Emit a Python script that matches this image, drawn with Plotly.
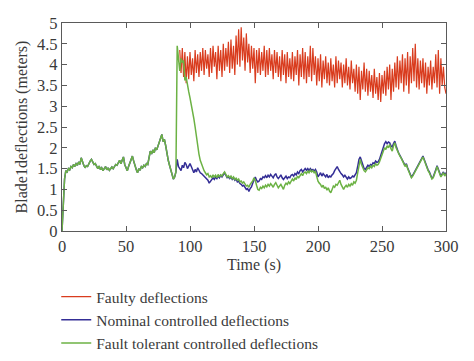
import plotly.graph_objects as go

# Fault tolerant controlled deflections (green), t = 0..300 s, 1 s step
green = [
    0.00, 0.85, 1.25, 1.45, 1.42, 1.50, 1.47, 1.55, 1.52, 1.60,
    1.55, 1.62, 1.58, 1.66, 1.60, 1.76, 1.65, 1.58, 1.52, 1.57,
    1.55, 1.63, 1.68, 1.72, 1.66, 1.60, 1.62, 1.55, 1.50, 1.56,
    1.48, 1.52, 1.45, 1.50, 1.55, 1.47, 1.52, 1.46, 1.50, 1.54,
    1.50, 1.56, 1.60, 1.58, 1.65, 1.70, 1.62, 1.72, 1.78, 1.60,
    1.52, 1.45, 1.55, 1.62, 1.72, 1.80, 1.68, 1.55, 1.48, 1.40,
    1.50, 1.46, 1.55, 1.52, 1.58, 1.55, 1.62, 1.60, 1.78, 1.92,
    1.85, 1.95, 1.88, 2.00, 1.95, 2.05, 2.12, 2.22, 2.32, 2.15,
    2.20, 2.05, 1.85, 1.70, 1.58, 1.45, 1.32, 1.25, 1.30, 1.42,
    4.45, 4.10, 3.85, 4.15, 4.05, 4.10, 3.62, 3.70, 3.48, 3.35,
    3.20, 3.05, 2.88, 2.70, 2.50, 2.25, 2.05, 1.85, 1.70, 1.60,
    1.52, 1.45, 1.40, 1.35, 1.38, 1.30, 1.33, 1.28, 1.35, 1.30,
    1.34, 1.28, 1.36, 1.30, 1.35, 1.32, 1.38, 1.42, 1.36, 1.30,
    1.33, 1.28, 1.32, 1.26, 1.30, 1.24, 1.27, 1.22, 1.25, 1.18,
    1.20, 1.15, 1.18, 1.12, 1.08, 1.10, 1.05, 1.12, 1.15, 1.20,
    1.28, 1.22, 1.10, 1.00, 0.98, 1.05, 1.02, 1.08, 1.04, 1.10,
    1.06, 1.12, 1.08, 1.14, 1.10, 1.05, 1.12, 1.16, 1.10, 1.04,
    1.08, 1.12, 1.06, 1.00, 1.10, 1.15, 1.12, 1.18, 1.14, 1.20,
    1.25, 1.20, 1.28, 1.24, 1.32, 1.28, 1.35, 1.38, 1.33, 1.40,
    1.42, 1.38, 1.44, 1.40, 1.46, 1.42, 1.45, 1.40, 1.43, 1.30,
    1.20, 1.15, 1.12, 1.05, 1.10, 1.02, 1.06, 0.98, 1.04, 0.96,
    0.92, 1.00, 1.08, 1.05, 1.12, 1.10, 1.18, 1.22, 1.12, 1.04,
    1.00, 1.06, 1.10, 1.05, 1.12, 1.08, 1.14, 1.10, 1.18, 1.15,
    1.22, 1.40, 1.62, 1.72, 1.60, 1.50, 1.45, 1.42, 1.48, 1.52,
    1.50, 1.56, 1.52, 1.58, 1.55, 1.62, 1.58, 1.60, 1.66, 1.75,
    1.85, 1.95, 2.00, 1.96, 2.05, 2.00, 2.08, 1.98, 1.92, 2.05,
    2.12, 2.00, 1.92, 1.85, 1.80, 1.75, 1.70, 1.62, 1.55, 1.60,
    1.50, 1.42, 1.35, 1.28, 1.32, 1.38, 1.42, 1.50, 1.55, 1.60,
    1.65, 1.72, 1.78, 1.70, 1.60, 1.52, 1.45, 1.40, 1.32, 1.25,
    1.28, 1.35, 1.45, 1.55, 1.48, 1.38, 1.30, 1.35, 1.40, 1.32,
    1.38,
]
t_green = list(range(0, 301))

# Nominal controlled deflections (blue) after the fault, t = 90..300 s
blue_after = [
    1.72, 1.55, 1.50, 1.45, 1.58, 1.52, 1.65, 1.60, 1.50, 1.55,
    1.62, 1.55, 1.45, 1.40, 1.48, 1.42, 1.52, 1.45, 1.40, 1.38,
    1.35, 1.32, 1.30, 1.26, 1.22, 1.15, 1.20, 1.25, 1.28, 1.24,
    1.30, 1.26, 1.32, 1.28, 1.34, 1.30, 1.35, 1.40, 1.34, 1.28,
    1.30, 1.26, 1.30, 1.24, 1.28, 1.22, 1.25, 1.18, 1.20, 1.14,
    1.12, 1.08, 1.10, 1.05, 1.00, 1.02, 0.95, 1.02, 1.06, 1.15,
    1.25, 1.30, 1.22, 1.18, 1.20, 1.26, 1.24, 1.30, 1.28, 1.33,
    1.28, 1.34, 1.30, 1.36, 1.32, 1.28, 1.34, 1.38, 1.30, 1.26,
    1.30, 1.35, 1.28, 1.24, 1.28, 1.32, 1.26, 1.30, 1.28, 1.34,
    1.36, 1.32, 1.38, 1.35, 1.42, 1.38, 1.45, 1.48, 1.42, 1.46,
    1.50, 1.46, 1.50, 1.45, 1.50, 1.46, 1.48, 1.44, 1.48, 1.42,
    1.30, 1.35, 1.40, 1.32, 1.38, 1.34, 1.30, 1.36, 1.28, 1.32,
    1.30, 1.35, 1.38, 1.45, 1.52, 1.55, 1.48, 1.42, 1.38, 1.35,
    1.30, 1.34, 1.28, 1.25, 1.30, 1.26, 1.28, 1.32, 1.30, 1.35,
    1.40, 1.55, 1.72, 1.78, 1.68, 1.55, 1.50, 1.48, 1.54, 1.58,
    1.55, 1.60, 1.58, 1.64, 1.62, 1.68, 1.65, 1.66, 1.72, 1.82,
    1.95, 2.05, 2.10, 2.15, 2.10, 2.14, 2.12, 2.05, 2.02, 2.10,
    2.16, 2.05, 1.95, 1.87, 1.82, 1.77, 1.72, 1.64, 1.57, 1.62,
    1.52, 1.44, 1.37, 1.30, 1.34, 1.40, 1.44, 1.52, 1.57, 1.62,
    1.67, 1.74, 1.80, 1.72, 1.62, 1.54, 1.47, 1.42, 1.34, 1.27,
    1.30, 1.37, 1.47, 1.57, 1.50, 1.40, 1.32, 1.37, 1.42, 1.35,
    1.40,
]
# before the fault the nominal response coincides with the green one
blue = green[:90] + blue_after
t_blue = list(range(0, 301))

# Faulty deflections (red), t = 92..300 s
red = [
    4.35, 3.80, 4.40, 3.70, 4.30, 3.55, 4.20, 3.65,
    4.30, 3.75, 4.15, 3.60, 4.35, 3.80, 4.25, 3.70, 4.30, 3.85,
    4.40, 3.75, 4.35, 3.90, 4.25, 3.70, 4.40, 3.80, 4.45, 3.95,
    4.30, 3.65, 4.45, 3.85, 4.35, 3.70, 4.50, 3.85, 4.40, 3.95,
    4.55, 3.80, 4.60, 3.90, 4.45, 3.75, 4.70, 4.00, 4.85, 3.95,
    4.90, 4.10, 4.65, 3.85, 4.75, 4.05, 4.50, 3.80, 4.45, 3.90,
    4.40, 3.55, 4.35, 3.80, 4.40, 3.75, 4.30, 3.85, 4.45, 3.70,
    4.35, 3.75, 4.40, 3.85, 4.25, 3.65, 4.35, 3.80, 4.30, 3.70,
    4.20, 3.60, 4.35, 3.75, 4.25, 3.55, 4.30, 3.70, 4.15, 3.65,
    4.30, 3.60, 4.20, 3.75, 4.35, 3.50, 4.25, 3.70, 4.40, 3.65,
    4.30, 3.55, 4.20, 3.70, 4.45, 3.60, 4.40, 3.75, 4.20, 3.50,
    4.15, 3.60, 4.25, 3.45, 4.10, 3.65, 4.20, 3.55, 4.05, 3.50,
    4.15, 3.60, 4.00, 3.45, 4.20, 3.55, 4.10, 3.65, 4.05, 3.45,
    4.00, 3.55, 4.15, 3.50, 3.95, 3.40, 4.10, 3.55, 3.90, 3.35,
    4.00, 3.30, 3.95, 3.15, 3.85, 3.40, 4.05, 3.35, 3.90, 3.25,
    3.85, 3.35, 3.75, 3.20, 3.90, 3.30, 3.70, 3.15, 3.80, 3.10,
    3.75, 3.30, 3.85, 3.25, 3.95, 3.40, 4.00, 3.15, 3.90, 3.35,
    4.05, 3.45, 4.20, 3.40, 4.10, 3.55, 4.25, 3.35, 4.15, 3.50,
    4.30, 3.30, 4.20, 3.55, 4.40, 3.60, 4.50, 3.45, 4.15, 3.40,
    4.10, 3.55, 4.15, 3.45, 4.05, 3.30, 3.95, 3.50, 4.10, 3.40,
    3.95, 3.55, 4.25, 3.45, 4.35, 3.30, 4.15, 3.50, 3.95, 3.45,
    3.30,
]
t_red = list(range(92, 301))

x_ticks = [0, 50, 100, 150, 200, 250, 300]
y_ticks = [0, 0.5, 1, 1.5, 2, 2.5, 3, 3.5, 4, 4.5, 5]
y_tick_text = ["0", "0.5", "1", "1.5", "2", "2.5", "3", "3.5", "4", "4.5", "5"]

FONT = "Liberation Serif, Times New Roman, serif"
TXT = "#3a3a3a"

fig = go.Figure()
fig.add_trace(go.Scatter(x=t_red, y=red, mode="lines", name="Faulty deflections",
                         line=dict(color="#d93c1e", width=1.2)))
fig.add_trace(go.Scatter(x=t_blue, y=blue, mode="lines", name="Nominal controlled deflections",
                         line=dict(color="#342e96", width=1.5)))
fig.add_trace(go.Scatter(x=t_green, y=green, mode="lines", name="Fault tolerant controlled deflections",
                         line=dict(color="#6cb244", width=1.5)))

axis_common = dict(showline=True, linecolor="#5a5a5a", linewidth=1.2, mirror="ticks",
                   ticks="inside", ticklen=5, tickcolor="#5a5a5a", tickwidth=1, showgrid=False,
                   zeroline=False, automargin=False,
                   tickfont=dict(family=FONT, size=16.5, color=TXT))

# the page adds an 8 px body margin, so the figure is 8 px smaller each way
fig.update_layout(
    width=466, height=353,
    margin=dict(l=54, r=28, t=15, b=130, autoexpand=False),
    paper_bgcolor="white", plot_bgcolor="white",
    font=dict(family=FONT, size=16, color=TXT),
    xaxis=dict(range=[0, 300], tickvals=x_ticks,
               title=dict(text="Time (s)", font=dict(family=FONT, size=16, color=TXT), standoff=2),
               **axis_common),
    yaxis=dict(range=[0, 5], tickvals=y_ticks, ticktext=y_tick_text,
               title=dict(text="Blade1deflections (meters)", font=dict(family=FONT, size=16, color=TXT), standoff=5),
               **axis_common),
    legend=dict(x=-0.015, xanchor="left", y=-0.236, yanchor="top",
                font=dict(family=FONT, size=15.5, color=TXT),
                bgcolor="rgba(0,0,0,0)", tracegroupgap=0, itemwidth=30),
    showlegend=True,
)

fig.write_html("out.html")
